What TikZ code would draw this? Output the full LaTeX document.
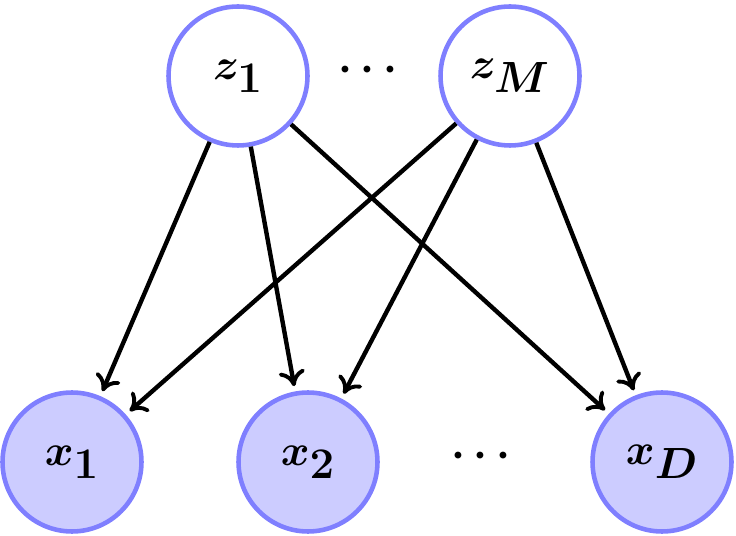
\documentclass[tikz,border=0pt]{standalone}
\usepackage{amsmath}
\usetikzlibrary{arrows.meta}
\definecolor{edge}{HTML}{7F7FFF}
\definecolor{fillx}{HTML}{CCCCFF}
\begin{document}
\begin{tikzpicture}[x=0.02cm,y=-0.02cm,
  lat/.style={circle,draw=edge,line width=2.6pt,fill=white,minimum size=2.78cm,inner sep=0pt,font=\fontsize{64}{70}\selectfont\boldmath},
  obs/.style={lat,fill=fillx},
  arr/.style={-{To[length=9pt,width=15pt,line width=2.2pt]},line width=2.5pt,shorten >=3pt}]
\useasboundingbox (0,0) rectangle (736,536);
\node[lat] (z1) at (238,76) {$z_1$};
\node[lat] (zM) at (510,76) {$z_M$};
\node[obs] (x1) at (72,462) {$x_1$};
\node[obs] (x2) at (308,462) {$x_2$};
\node[obs] (xD) at (662,462) {$x_D$};
\node[font=\fontsize{64}{70}\selectfont\boldmath] (d1) at (372,70) {$\cdots$};
\node[font=\fontsize{64}{70}\selectfont\boldmath] (d2) at (485,456) {$\cdots$};
\draw[arr] (z1) -- (x1);
\draw[arr] (z1) -- (x2);
\draw[arr] (z1) -- (xD);
\draw[arr] (zM) -- (x1);
\draw[arr] (zM) -- (x2);
\draw[arr] (zM) -- (xD);
\end{tikzpicture}
\end{document}
